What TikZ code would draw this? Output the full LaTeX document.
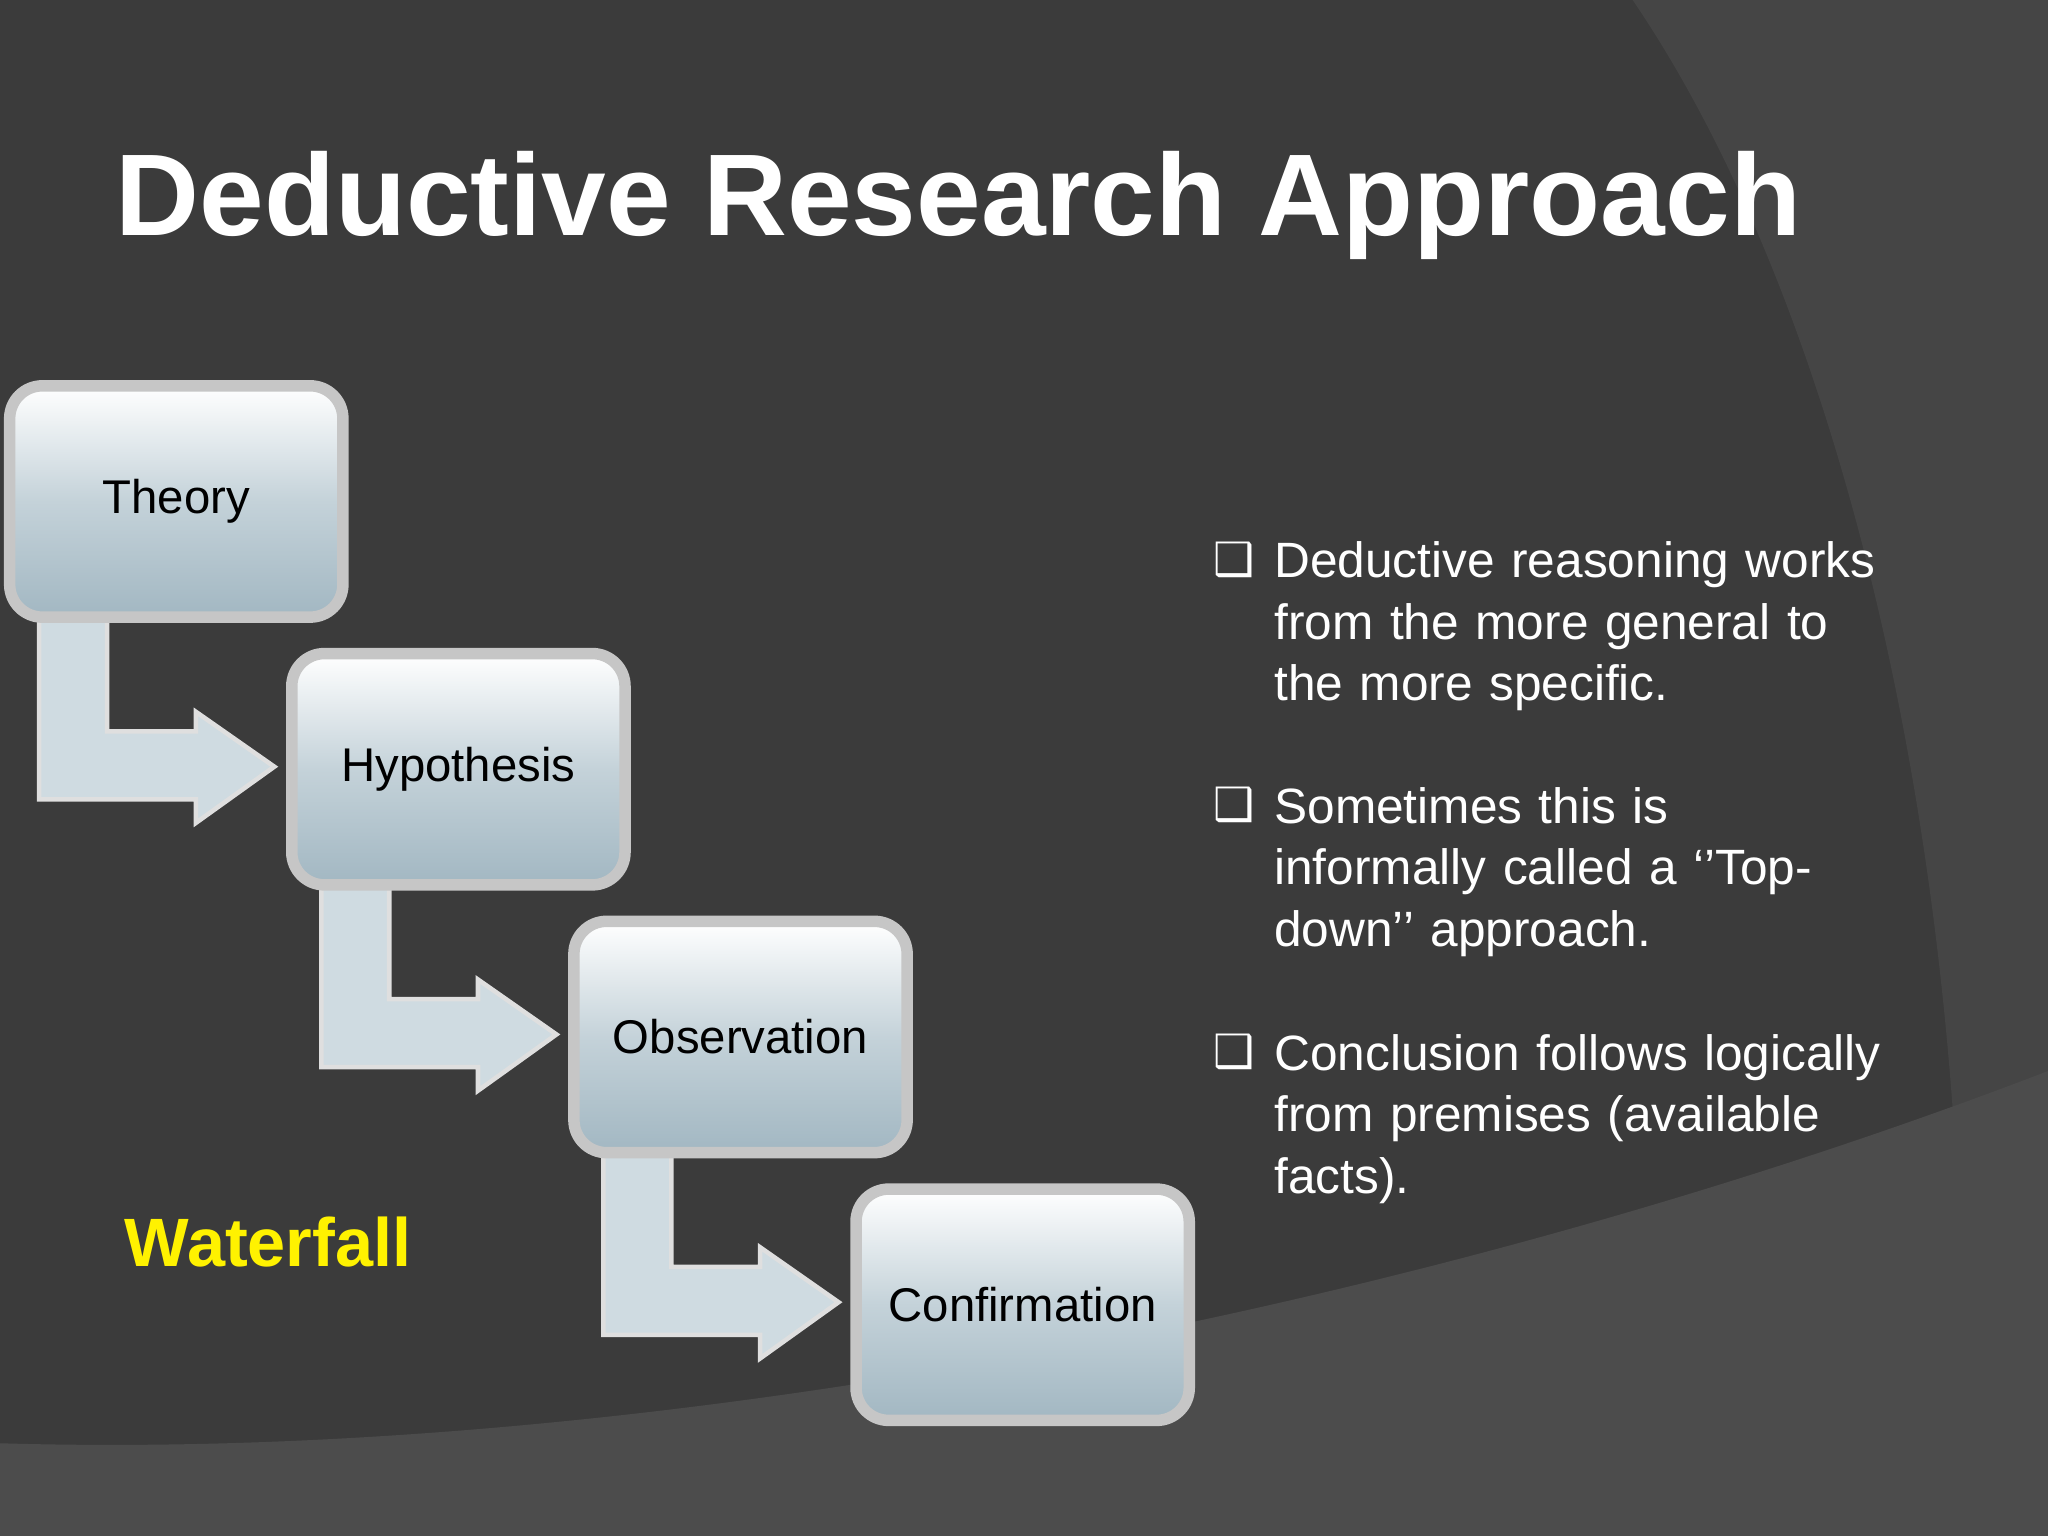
\documentclass[tikz,border=0pt]{standalone}
\usepackage{fontspec}
\setmainfont{Liberation Sans}
\newfontfamily\dejavu{DejaVu Sans}
\definecolor{boxbot}{HTML}{A2B7C2}
\definecolor{boxmid}{HTML}{C4D2D9}
\definecolor{arrfill}{HTML}{CFDBE1}
\begin{document}
\begin{tikzpicture}[x=0.01cm,y=-0.01cm,
  stepbox/.style={draw=gray!45,line width=2.5pt,rounded corners=0.25cm,top color=white,bottom color=boxbot,middle color=boxmid,minimum width=2.55cm,minimum height=1.77cm,anchor=north west,font=\fontsize{10.3}{12}\selectfont,text=black},
  bentarrow/.style={fill=arrfill,draw=gray!25,line width=1pt},
  bul/.style={anchor=north west,text=white,align=left,text width=5cm,font=\fontsize{10.8}{13.4}\selectfont}]
\useasboundingbox (0,0) rectangle (1568,1176);
\fill[black!77] (0,0) rectangle (1568,1176);
\fill[black!73] (1250,0) .. controls (1420,250) and (1520,700) .. (1500,1176) -- (1568,1176) -- (1568,0) -- cycle;
\fill[black!70] (0,1105) .. controls (500,1120) and (1100,1000) .. (1568,820) -- (1568,1176) -- (0,1176) -- cycle;
\node[anchor=base west,inner sep=0,text=white,font=\bfseries\fontsize{25.3}{30}\selectfont] (title) at (88,180) {Deductive Research Approach};
% arrows
\foreach \i in {0,1,2}{
  \begin{scope}[shift={(216*\i,205*\i)}]
   \filldraw[bentarrow] (30,472) -- (82,472) -- (82,560) -- (150,560) -- (150,545) -- (210,587) -- (150,630) -- (150,612) -- (30,612) -- cycle;
  \end{scope}}
\node[stepbox] (t) at (3,291) {Theory};
\node[stepbox] (h) at (219,496) {Hypothesis};
\node[stepbox] (o) at (435,701) {Observation};
\node[stepbox] (c) at (651,906) {Confirmation};
\node[anchor=base west,inner sep=0,text=yellow,font=\bfseries\fontsize{14.9}{18}\selectfont] (w) at (95,970) {Waterfall};
\foreach \y/\t [count=\k] in {403/{Deductive reasoning works\\from the more general to\\the more specific.},591/{Sometimes this is\\informally called a ‘’Top-\\down’’ approach.},780/{Conclusion follows logically\\from premises (available\\facts).}}{
  \node[anchor=north west,text=white,font=\dejavu\fontsize{10}{12}\selectfont,inner sep=0] (b\k) at (928,\y+11) {❑};
  \node[bul,inner sep=0] (p\k) at (975,\y+11) {\t};
}
\end{tikzpicture}
\end{document}
